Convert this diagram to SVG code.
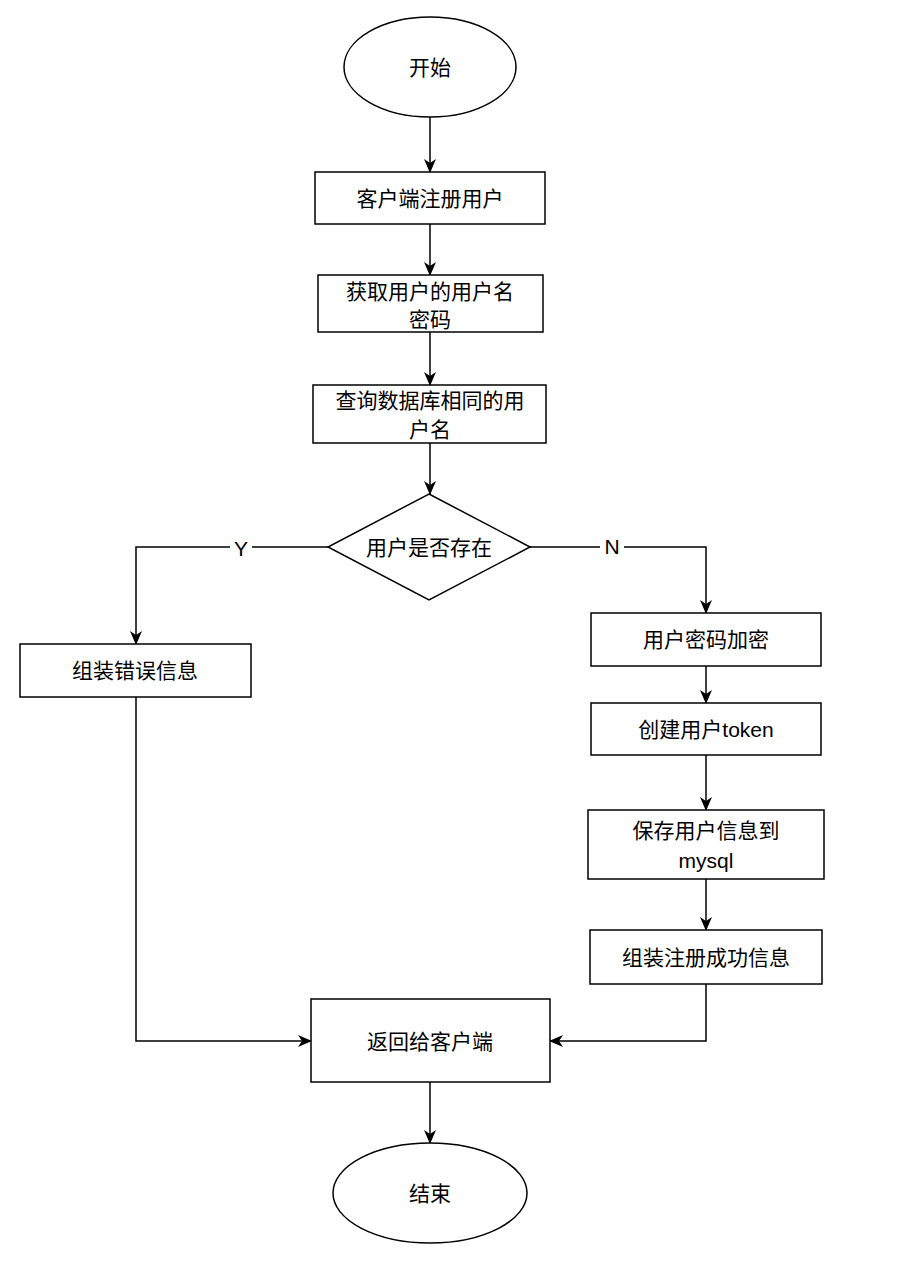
<svg xmlns="http://www.w3.org/2000/svg" width="905" height="1280" viewBox="0 0 905 1280">
<style>
.s{fill:#fff;stroke:#000;stroke-width:1.5}
.c{fill:none;stroke:#000;stroke-width:1.5;marker-end:url(#a)}
text{font-family:"Liberation Sans","Noto Sans CJK SC",sans-serif;font-size:21px;text-anchor:middle;dominant-baseline:central;fill:#000}
</style>
<defs><marker id="a" viewBox="0 0 14 14" refX="13" refY="7" markerWidth="14" markerHeight="14" markerUnits="userSpaceOnUse" orient="auto"><path d="M0,1L14,7L0,13L4,7Z" fill="#000"/></marker></defs>
<rect width="905" height="1280" fill="#fff"/>
<g id="connectors">
<path class="c" d="M430,117V172"/>
<path class="c" d="M430,224V275"/>
<path class="c" d="M430,332V385"/>
<path class="c" d="M430,443V494"/>
<path class="c" d="M328,547H136V644"/>
<path class="c" d="M530,547H706V613"/>
<path class="c" d="M706,666V703"/>
<path class="c" d="M706,755V810"/>
<path class="c" d="M706,879V930"/>
<path class="c" d="M136,697V1041H311"/>
<path class="c" d="M706,984V1041H550"/>
<path class="c" d="M430,1082V1143"/>
<rect x="230" y="535" width="22" height="24" fill="#fff"/><text x="241" y="548">Y</text>
<rect x="600" y="535" width="24" height="24" fill="#fff"/><text x="612" y="546">N</text>
</g>
<g id="start"><ellipse class="s" cx="430" cy="67" rx="86" ry="50"/><text x="430" y="67">开始</text></g>
<g id="n1"><rect class="s" x="315" y="172" width="230" height="52"/><text x="430" y="198">客户端注册用户</text></g>
<g id="n2"><rect class="s" x="318" y="275" width="225" height="57"/><text x="430" y="291">获取用户的用户名</text><text x="430" y="319">密码</text></g>
<g id="n3"><rect class="s" x="313" y="385" width="233" height="58"/><text x="430" y="400">查询数据库相同的用</text><text x="430" y="429">户名</text></g>
<g id="d"><path class="s" d="M429,494L530,547L429,600L328,547Z"/><text x="429" y="547">用户是否存在</text></g>
<g id="err"><rect class="s" x="20" y="644" width="231" height="53"/><text x="135" y="670">组装错误信息</text></g>
<g id="enc"><rect class="s" x="591" y="613" width="230" height="53"/><text x="706" y="639">用户密码加密</text></g>
<g id="tok"><rect class="s" x="591" y="703" width="230" height="52"/><text x="706" y="729">创建用户token</text></g>
<g id="save"><rect class="s" x="588" y="810" width="236" height="69"/><text x="706" y="830">保存用户信息到</text><text x="706" y="860">mysql</text></g>
<g id="ok"><rect class="s" x="590" y="930" width="232" height="54"/><text x="706" y="957">组装注册成功信息</text></g>
<g id="ret"><rect class="s" x="311" y="999" width="239" height="83"/><text x="430" y="1041">返回给客户端</text></g>
<g id="end"><ellipse class="s" cx="430" cy="1193" rx="97" ry="50"/><text x="430" y="1193">结束</text></g>
</svg>
